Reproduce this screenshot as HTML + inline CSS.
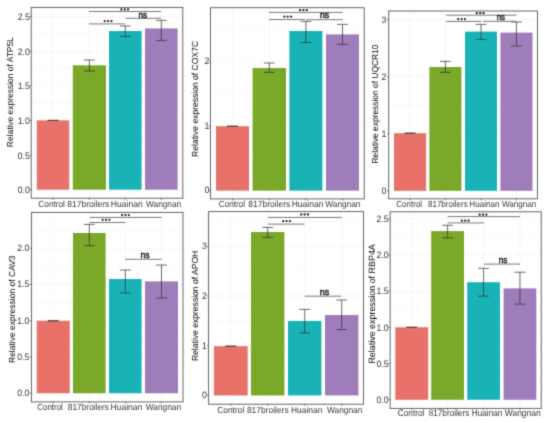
<!DOCTYPE html>
<html><head><meta charset="utf-8"><style>
html,body{margin:0;padding:0;background:#fff;}
svg{display:block;font-family:"Liberation Sans",sans-serif;text-rendering:geometricPrecision;}

</style></head><body><div id="wrap">
<svg width="550" height="423" viewBox="0 0 550 423">
<defs><filter id="blr" x="0" y="0" width="550" height="423" filterUnits="userSpaceOnUse" color-interpolation-filters="sRGB"><feConvolveMatrix order="3" kernelMatrix="0.0225 0.1050 0.0225 0.1050 0.4900 0.1050 0.0225 0.1050 0.0225" edgeMode="duplicate"/></filter></defs>
<g filter="url(#blr)">
<rect width="550" height="423" fill="#fff"/>
<clipPath id="c_ATP5L"><rect x="31.2" y="7.4" width="151.6" height="190.8"/></clipPath>
<g clip-path="url(#c_ATP5L)">
<line x1="31.2" x2="182.8" y1="207.01" y2="207.01" stroke="#EEEEEE" stroke-width="0.35"/>
<line x1="31.2" x2="182.8" y1="189.7" y2="189.7" stroke="#EEEEEE" stroke-width="0.55"/>
<line x1="31.2" x2="182.8" y1="172.39" y2="172.39" stroke="#EEEEEE" stroke-width="0.35"/>
<line x1="31.2" x2="182.8" y1="155.07" y2="155.07" stroke="#EEEEEE" stroke-width="0.55"/>
<line x1="31.2" x2="182.8" y1="137.76" y2="137.76" stroke="#EEEEEE" stroke-width="0.35"/>
<line x1="31.2" x2="182.8" y1="120.45" y2="120.45" stroke="#EEEEEE" stroke-width="0.55"/>
<line x1="31.2" x2="182.8" y1="103.14" y2="103.14" stroke="#EEEEEE" stroke-width="0.35"/>
<line x1="31.2" x2="182.8" y1="85.82" y2="85.82" stroke="#EEEEEE" stroke-width="0.55"/>
<line x1="31.2" x2="182.8" y1="68.51" y2="68.51" stroke="#EEEEEE" stroke-width="0.35"/>
<line x1="31.2" x2="182.8" y1="51.2" y2="51.2" stroke="#EEEEEE" stroke-width="0.55"/>
<line x1="31.2" x2="182.8" y1="33.89" y2="33.89" stroke="#EEEEEE" stroke-width="0.35"/>
<line x1="31.2" x2="182.8" y1="16.57" y2="16.57" stroke="#EEEEEE" stroke-width="0.55"/>
<line x1="53" x2="53" y1="7.4" y2="198.2" stroke="#EEEEEE" stroke-width="0.55"/>
<line x1="89.4" x2="89.4" y1="7.4" y2="198.2" stroke="#EEEEEE" stroke-width="0.55"/>
<line x1="125.3" x2="125.3" y1="7.4" y2="198.2" stroke="#EEEEEE" stroke-width="0.55"/>
<line x1="161.3" x2="161.3" y1="7.4" y2="198.2" stroke="#EEEEEE" stroke-width="0.55"/>
<rect x="36.8" y="120.4" width="32.4" height="69.3" fill="#E8726A"/>
<rect x="72.8" y="65.3" width="33.2" height="124.4" fill="#7AA829"/>
<rect x="109" y="31" width="32.6" height="158.7" fill="#19B3B7"/>
<rect x="145" y="28.4" width="32.6" height="161.3" fill="#9F7DBA"/>
<path d="M47.6 120.4H58.4M53 120.4V120.4M47.6 120.4H58.4" stroke="#2E2E2E" stroke-width="0.7" fill="none"/>
<path d="M84 60H94.8M89.4 60V71M84 71H94.8" stroke="#2E2E2E" stroke-width="0.7" fill="none"/>
<path d="M119.9 26H130.7M125.3 26V36.4M119.9 36.4H130.7" stroke="#2E2E2E" stroke-width="0.7" fill="none"/>
<path d="M155.9 20.4H166.7M161.3 20.4V40.6M155.9 40.6H166.7" stroke="#2E2E2E" stroke-width="0.7" fill="none"/>
<line x1="89" x2="161" y1="11.5" y2="11.5" stroke="#6A6A6A" stroke-width="0.9"/>
<circle cx="121.35" cy="9.45" r="1.15" fill="#222"/>
<circle cx="124.7" cy="9.45" r="1.15" fill="#222"/>
<circle cx="128.05" cy="9.45" r="1.15" fill="#222"/>
<line x1="89" x2="125" y1="23.9" y2="23.9" stroke="#6A6A6A" stroke-width="0.9"/>
<circle cx="104.75" cy="21.05" r="1.15" fill="#222"/>
<circle cx="108.1" cy="21.05" r="1.15" fill="#222"/>
<circle cx="111.45" cy="21.05" r="1.15" fill="#222"/>
<line x1="125.6" x2="161" y1="18.3" y2="18.3" stroke="#6A6A6A" stroke-width="0.9"/>
<text x="138.5" y="18" font-size="9.5" fill="#111" stroke="#111" stroke-width="0.4" textLength="8.6" lengthAdjust="spacingAndGlyphs">ns</text>
</g>
<rect x="31.2" y="7.4" width="151.6" height="190.8" fill="none" stroke="#555555" stroke-width="0.9"/>
<line x1="29.6" x2="31.2" y1="189.7" y2="189.7" stroke="#555555" stroke-width="0.8"/>
<text x="17.7" y="193" font-size="9.3" fill="#383838" textLength="12.1" lengthAdjust="spacingAndGlyphs">0.0</text>
<line x1="29.6" x2="31.2" y1="155.07" y2="155.07" stroke="#555555" stroke-width="0.8"/>
<text x="17.7" y="159" font-size="9.3" fill="#383838" textLength="12.1" lengthAdjust="spacingAndGlyphs">0.5</text>
<line x1="29.6" x2="31.2" y1="120.45" y2="120.45" stroke="#555555" stroke-width="0.8"/>
<text x="17.7" y="124" font-size="9.3" fill="#383838" textLength="12.1" lengthAdjust="spacingAndGlyphs">1.0</text>
<line x1="29.6" x2="31.2" y1="85.82" y2="85.82" stroke="#555555" stroke-width="0.8"/>
<text x="17.7" y="89" font-size="9.3" fill="#383838" textLength="12.1" lengthAdjust="spacingAndGlyphs">1.5</text>
<line x1="29.6" x2="31.2" y1="51.2" y2="51.2" stroke="#555555" stroke-width="0.8"/>
<text x="17.7" y="55" font-size="9.3" fill="#383838" textLength="12.1" lengthAdjust="spacingAndGlyphs">2.0</text>
<line x1="29.6" x2="31.2" y1="16.57" y2="16.57" stroke="#555555" stroke-width="0.8"/>
<text x="17.7" y="20" font-size="9.3" fill="#383838" textLength="12.1" lengthAdjust="spacingAndGlyphs">2.5</text>
<line x1="53" x2="53" y1="198.2" y2="199.8" stroke="#555555" stroke-width="0.8"/>
<line x1="89.4" x2="89.4" y1="198.2" y2="199.8" stroke="#555555" stroke-width="0.8"/>
<line x1="125.3" x2="125.3" y1="198.2" y2="199.8" stroke="#555555" stroke-width="0.8"/>
<line x1="161.3" x2="161.3" y1="198.2" y2="199.8" stroke="#555555" stroke-width="0.8"/>
<text x="38.35" y="206.8" font-size="8.9" fill="#383838" textLength="26.6" lengthAdjust="spacingAndGlyphs">Control</text>
<text x="67.35" y="206.8" font-size="8.9" fill="#383838" textLength="42" lengthAdjust="spacingAndGlyphs">817broilers</text>
<text x="110.75" y="206.8" font-size="8.9" fill="#383838" textLength="32" lengthAdjust="spacingAndGlyphs">Huainan</text>
<text x="146.05" y="206.8" font-size="8.9" fill="#383838" textLength="35.1" lengthAdjust="spacingAndGlyphs">Wangnan</text>
<text transform="translate(12.8,147.2) rotate(-90)" x="0" y="0" font-size="8.68" fill="#000" textLength="110" lengthAdjust="spacingAndGlyphs">Relative expression of ATP5L</text>
<clipPath id="c_COX7C"><rect x="210.4" y="7.7" width="153.8" height="191.2"/></clipPath>
<g clip-path="url(#c_COX7C)">
<line x1="210.4" x2="364.2" y1="222.8" y2="222.8" stroke="#EEEEEE" stroke-width="0.35"/>
<line x1="210.4" x2="364.2" y1="190.6" y2="190.6" stroke="#EEEEEE" stroke-width="0.55"/>
<line x1="210.4" x2="364.2" y1="158.4" y2="158.4" stroke="#EEEEEE" stroke-width="0.35"/>
<line x1="210.4" x2="364.2" y1="126.2" y2="126.2" stroke="#EEEEEE" stroke-width="0.55"/>
<line x1="210.4" x2="364.2" y1="94" y2="94" stroke="#EEEEEE" stroke-width="0.35"/>
<line x1="210.4" x2="364.2" y1="61.8" y2="61.8" stroke="#EEEEEE" stroke-width="0.55"/>
<line x1="210.4" x2="364.2" y1="29.6" y2="29.6" stroke="#EEEEEE" stroke-width="0.35"/>
<line x1="232.5" x2="232.5" y1="7.7" y2="198.9" stroke="#EEEEEE" stroke-width="0.55"/>
<line x1="269.3" x2="269.3" y1="7.7" y2="198.9" stroke="#EEEEEE" stroke-width="0.55"/>
<line x1="305.9" x2="305.9" y1="7.7" y2="198.9" stroke="#EEEEEE" stroke-width="0.55"/>
<line x1="342.5" x2="342.5" y1="7.7" y2="198.9" stroke="#EEEEEE" stroke-width="0.55"/>
<rect x="216" y="126.2" width="33" height="64.4" fill="#E8726A"/>
<rect x="252.6" y="68" width="33.4" height="122.6" fill="#7AA829"/>
<rect x="289.4" y="31" width="33" height="159.6" fill="#19B3B7"/>
<rect x="326" y="34.4" width="33" height="156.2" fill="#9F7DBA"/>
<path d="M227.1 126.2H237.9M232.5 126.2V126.2M227.1 126.2H237.9" stroke="#2E2E2E" stroke-width="0.7" fill="none"/>
<path d="M263.9 63H274.7M269.3 63V72.4M263.9 72.4H274.7" stroke="#2E2E2E" stroke-width="0.7" fill="none"/>
<path d="M300.5 21.4H311.3M305.9 21.4V42.6M300.5 42.6H311.3" stroke="#2E2E2E" stroke-width="0.7" fill="none"/>
<path d="M337.1 24.4H347.9M342.5 24.4V44.4M337.1 44.4H347.9" stroke="#2E2E2E" stroke-width="0.7" fill="none"/>
<line x1="269" x2="342.6" y1="12.4" y2="12.4" stroke="#6A6A6A" stroke-width="0.9"/>
<circle cx="300.05" cy="10.2" r="1.15" fill="#222"/>
<circle cx="303.4" cy="10.2" r="1.15" fill="#222"/>
<circle cx="306.75" cy="10.2" r="1.15" fill="#222"/>
<line x1="269" x2="305" y1="19.5" y2="19.5" stroke="#6A6A6A" stroke-width="0.9"/>
<circle cx="284.35" cy="16.7" r="1.15" fill="#222"/>
<circle cx="287.7" cy="16.7" r="1.15" fill="#222"/>
<circle cx="291.05" cy="16.7" r="1.15" fill="#222"/>
<line x1="306" x2="342.6" y1="19.7" y2="19.7" stroke="#6A6A6A" stroke-width="0.9"/>
<text x="319.9" y="17.8" font-size="9.5" fill="#111" stroke="#111" stroke-width="0.4" textLength="9.3" lengthAdjust="spacingAndGlyphs">ns</text>
</g>
<rect x="210.4" y="7.7" width="153.8" height="191.2" fill="none" stroke="#555555" stroke-width="0.9"/>
<line x1="208.8" x2="210.4" y1="190.6" y2="190.6" stroke="#555555" stroke-width="0.8"/>
<text x="204.5" y="193" font-size="9.3" fill="#383838" textLength="4.9" lengthAdjust="spacingAndGlyphs">0</text>
<line x1="208.8" x2="210.4" y1="126.2" y2="126.2" stroke="#555555" stroke-width="0.8"/>
<text x="204.5" y="129" font-size="9.3" fill="#383838" textLength="4.9" lengthAdjust="spacingAndGlyphs">1</text>
<line x1="208.8" x2="210.4" y1="61.8" y2="61.8" stroke="#555555" stroke-width="0.8"/>
<text x="204.5" y="64" font-size="9.3" fill="#383838" textLength="4.9" lengthAdjust="spacingAndGlyphs">2</text>
<line x1="232.5" x2="232.5" y1="198.9" y2="200.5" stroke="#555555" stroke-width="0.8"/>
<line x1="269.3" x2="269.3" y1="198.9" y2="200.5" stroke="#555555" stroke-width="0.8"/>
<line x1="305.9" x2="305.9" y1="198.9" y2="200.5" stroke="#555555" stroke-width="0.8"/>
<line x1="342.5" x2="342.5" y1="198.9" y2="200.5" stroke="#555555" stroke-width="0.8"/>
<text x="218.85" y="207" font-size="8.9" fill="#383838" textLength="26.2" lengthAdjust="spacingAndGlyphs">Control</text>
<text x="248.35" y="207" font-size="8.9" fill="#383838" textLength="41.9" lengthAdjust="spacingAndGlyphs">817broilers</text>
<text x="291.65" y="207" font-size="8.9" fill="#383838" textLength="31.9" lengthAdjust="spacingAndGlyphs">Huainan</text>
<text x="325.35" y="207" font-size="8.9" fill="#383838" textLength="35" lengthAdjust="spacingAndGlyphs">Wangnan</text>
<text transform="translate(198.3,156.9) rotate(-90)" x="0" y="0" font-size="8.8" fill="#000" textLength="116" lengthAdjust="spacingAndGlyphs">Relative expression of COX7C</text>
<clipPath id="c_UQCR10"><rect x="388.7" y="11" width="148.7" height="187.8"/></clipPath>
<g clip-path="url(#c_UQCR10)">
<line x1="388.7" x2="537.4" y1="219.35" y2="219.35" stroke="#EEEEEE" stroke-width="0.35"/>
<line x1="388.7" x2="537.4" y1="190.8" y2="190.8" stroke="#EEEEEE" stroke-width="0.55"/>
<line x1="388.7" x2="537.4" y1="162.25" y2="162.25" stroke="#EEEEEE" stroke-width="0.35"/>
<line x1="388.7" x2="537.4" y1="133.7" y2="133.7" stroke="#EEEEEE" stroke-width="0.55"/>
<line x1="388.7" x2="537.4" y1="105.15" y2="105.15" stroke="#EEEEEE" stroke-width="0.35"/>
<line x1="388.7" x2="537.4" y1="76.6" y2="76.6" stroke="#EEEEEE" stroke-width="0.55"/>
<line x1="388.7" x2="537.4" y1="48.05" y2="48.05" stroke="#EEEEEE" stroke-width="0.35"/>
<line x1="388.7" x2="537.4" y1="19.5" y2="19.5" stroke="#EEEEEE" stroke-width="0.55"/>
<line x1="410.05" x2="410.05" y1="11" y2="198.8" stroke="#EEEEEE" stroke-width="0.55"/>
<line x1="445.4" x2="445.4" y1="11" y2="198.8" stroke="#EEEEEE" stroke-width="0.55"/>
<line x1="481" x2="481" y1="11" y2="198.8" stroke="#EEEEEE" stroke-width="0.55"/>
<line x1="516.45" x2="516.45" y1="11" y2="198.8" stroke="#EEEEEE" stroke-width="0.55"/>
<rect x="394" y="133.2" width="32.1" height="57.6" fill="#E8726A"/>
<rect x="429.4" y="67" width="32" height="123.8" fill="#7AA829"/>
<rect x="465" y="31.6" width="32" height="159.2" fill="#19B3B7"/>
<rect x="500.4" y="32.6" width="32.1" height="158.2" fill="#9F7DBA"/>
<path d="M404.65 133.2H415.45M410.05 133.2V133.2M404.65 133.2H415.45" stroke="#2E2E2E" stroke-width="0.7" fill="none"/>
<path d="M440 61.4H450.8M445.4 61.4V72.4M440 72.4H450.8" stroke="#2E2E2E" stroke-width="0.7" fill="none"/>
<path d="M475.6 24.4H486.4M481 24.4V39.4M475.6 39.4H486.4" stroke="#2E2E2E" stroke-width="0.7" fill="none"/>
<path d="M511.05 22H521.85M516.45 22V46M511.05 46H521.85" stroke="#2E2E2E" stroke-width="0.7" fill="none"/>
<line x1="446" x2="516.4" y1="15.2" y2="15.2" stroke="#6A6A6A" stroke-width="0.9"/>
<circle cx="476.85" cy="13.2" r="1.15" fill="#222"/>
<circle cx="480.2" cy="13.2" r="1.15" fill="#222"/>
<circle cx="483.55" cy="13.2" r="1.15" fill="#222"/>
<line x1="446" x2="481" y1="21.45" y2="21.45" stroke="#6A6A6A" stroke-width="0.9"/>
<circle cx="458.25" cy="19.05" r="1.15" fill="#222"/>
<circle cx="461.6" cy="19.05" r="1.15" fill="#222"/>
<circle cx="464.95" cy="19.05" r="1.15" fill="#222"/>
<line x1="483" x2="516.4" y1="21.35" y2="21.35" stroke="#6A6A6A" stroke-width="0.9"/>
<text x="496.8" y="20.3" font-size="9.5" fill="#111" stroke="#111" stroke-width="0.4" textLength="8.2" lengthAdjust="spacingAndGlyphs">ns</text>
</g>
<rect x="388.7" y="11" width="148.7" height="187.8" fill="none" stroke="#555555" stroke-width="0.9"/>
<line x1="387.1" x2="388.7" y1="190.8" y2="190.8" stroke="#555555" stroke-width="0.8"/>
<text x="381.5" y="194" font-size="9.3" fill="#383838" textLength="4.9" lengthAdjust="spacingAndGlyphs">0</text>
<line x1="387.1" x2="388.7" y1="133.7" y2="133.7" stroke="#555555" stroke-width="0.8"/>
<text x="381.5" y="137" font-size="9.3" fill="#383838" textLength="4.9" lengthAdjust="spacingAndGlyphs">1</text>
<line x1="387.1" x2="388.7" y1="76.6" y2="76.6" stroke="#555555" stroke-width="0.8"/>
<text x="381.5" y="80" font-size="9.3" fill="#383838" textLength="4.9" lengthAdjust="spacingAndGlyphs">2</text>
<line x1="387.1" x2="388.7" y1="19.5" y2="19.5" stroke="#555555" stroke-width="0.8"/>
<text x="381.5" y="23" font-size="9.3" fill="#383838" textLength="4.9" lengthAdjust="spacingAndGlyphs">3</text>
<line x1="410.05" x2="410.05" y1="198.8" y2="200.4" stroke="#555555" stroke-width="0.8"/>
<line x1="445.4" x2="445.4" y1="198.8" y2="200.4" stroke="#555555" stroke-width="0.8"/>
<line x1="481" x2="481" y1="198.8" y2="200.4" stroke="#555555" stroke-width="0.8"/>
<line x1="516.45" x2="516.45" y1="198.8" y2="200.4" stroke="#555555" stroke-width="0.8"/>
<text x="396.35" y="206.6" font-size="8.9" fill="#383838" textLength="25.8" lengthAdjust="spacingAndGlyphs">Control</text>
<text x="427.95" y="206.6" font-size="8.9" fill="#383838" textLength="39.8" lengthAdjust="spacingAndGlyphs">817broilers</text>
<text x="469.35" y="206.6" font-size="8.9" fill="#383838" textLength="30.1" lengthAdjust="spacingAndGlyphs">Huainan</text>
<text x="502.05" y="206.6" font-size="8.9" fill="#383838" textLength="34.2" lengthAdjust="spacingAndGlyphs">Wangnan</text>
<text transform="translate(377.9,163.6) rotate(-90)" x="0" y="0" font-size="8.65" fill="#000" textLength="119" lengthAdjust="spacingAndGlyphs">Relative expression of UQCR10</text>
<clipPath id="c_CAV3"><rect x="31.4" y="212.4" width="151.6" height="189.5"/></clipPath>
<g clip-path="url(#c_CAV3)">
<line x1="31.4" x2="183" y1="411.31" y2="411.31" stroke="#EEEEEE" stroke-width="0.35"/>
<line x1="31.4" x2="183" y1="393.2" y2="393.2" stroke="#EEEEEE" stroke-width="0.55"/>
<line x1="31.4" x2="183" y1="375.09" y2="375.09" stroke="#EEEEEE" stroke-width="0.35"/>
<line x1="31.4" x2="183" y1="356.97" y2="356.97" stroke="#EEEEEE" stroke-width="0.55"/>
<line x1="31.4" x2="183" y1="338.86" y2="338.86" stroke="#EEEEEE" stroke-width="0.35"/>
<line x1="31.4" x2="183" y1="320.75" y2="320.75" stroke="#EEEEEE" stroke-width="0.55"/>
<line x1="31.4" x2="183" y1="302.64" y2="302.64" stroke="#EEEEEE" stroke-width="0.35"/>
<line x1="31.4" x2="183" y1="284.52" y2="284.52" stroke="#EEEEEE" stroke-width="0.55"/>
<line x1="31.4" x2="183" y1="266.41" y2="266.41" stroke="#EEEEEE" stroke-width="0.35"/>
<line x1="31.4" x2="183" y1="248.3" y2="248.3" stroke="#EEEEEE" stroke-width="0.55"/>
<line x1="31.4" x2="183" y1="230.19" y2="230.19" stroke="#EEEEEE" stroke-width="0.35"/>
<line x1="53.25" x2="53.25" y1="212.4" y2="401.9" stroke="#EEEEEE" stroke-width="0.55"/>
<line x1="89.3" x2="89.3" y1="212.4" y2="401.9" stroke="#EEEEEE" stroke-width="0.55"/>
<line x1="125.3" x2="125.3" y1="212.4" y2="401.9" stroke="#EEEEEE" stroke-width="0.55"/>
<line x1="161.5" x2="161.5" y1="212.4" y2="401.9" stroke="#EEEEEE" stroke-width="0.55"/>
<rect x="36.7" y="320.8" width="33.1" height="72.4" fill="#E8726A"/>
<rect x="73" y="233" width="32.6" height="160.2" fill="#7AA829"/>
<rect x="109" y="279" width="32.6" height="114.2" fill="#19B3B7"/>
<rect x="145" y="281.4" width="33" height="111.8" fill="#9F7DBA"/>
<path d="M47.85 320.8H58.65M53.25 320.8V320.8M47.85 320.8H58.65" stroke="#2E2E2E" stroke-width="0.7" fill="none"/>
<path d="M83.9 224.4H94.7M89.3 224.4V245.6M83.9 245.6H94.7" stroke="#2E2E2E" stroke-width="0.7" fill="none"/>
<path d="M119.9 270H130.7M125.3 270V293M119.9 293H130.7" stroke="#2E2E2E" stroke-width="0.7" fill="none"/>
<path d="M156.1 265H166.9M161.5 265V298M156.1 298H166.9" stroke="#2E2E2E" stroke-width="0.7" fill="none"/>
<line x1="89.6" x2="161.6" y1="217.45" y2="217.45" stroke="#6A6A6A" stroke-width="0.9"/>
<circle cx="122.15" cy="215.05" r="1.15" fill="#222"/>
<circle cx="125.5" cy="215.05" r="1.15" fill="#222"/>
<circle cx="128.85" cy="215.05" r="1.15" fill="#222"/>
<line x1="89.6" x2="125.4" y1="222.5" y2="222.5" stroke="#6A6A6A" stroke-width="0.9"/>
<circle cx="102.65" cy="219.8" r="1.15" fill="#222"/>
<circle cx="106" cy="219.8" r="1.15" fill="#222"/>
<circle cx="109.35" cy="219.8" r="1.15" fill="#222"/>
<line x1="125" x2="161.6" y1="259.3" y2="259.3" stroke="#6A6A6A" stroke-width="0.9"/>
<text x="140.4" y="257.8" font-size="9.5" fill="#111" stroke="#111" stroke-width="0.4" textLength="9.1" lengthAdjust="spacingAndGlyphs">ns</text>
</g>
<rect x="31.4" y="212.4" width="151.6" height="189.5" fill="none" stroke="#555555" stroke-width="0.9"/>
<line x1="29.8" x2="31.4" y1="393.2" y2="393.2" stroke="#555555" stroke-width="0.8"/>
<text x="17.2" y="396" font-size="9.3" fill="#383838" textLength="12.1" lengthAdjust="spacingAndGlyphs">0.0</text>
<line x1="29.8" x2="31.4" y1="356.97" y2="356.97" stroke="#555555" stroke-width="0.8"/>
<text x="17.2" y="360" font-size="9.3" fill="#383838" textLength="12.1" lengthAdjust="spacingAndGlyphs">0.5</text>
<line x1="29.8" x2="31.4" y1="320.75" y2="320.75" stroke="#555555" stroke-width="0.8"/>
<text x="17.2" y="324" font-size="9.3" fill="#383838" textLength="12.1" lengthAdjust="spacingAndGlyphs">1.0</text>
<line x1="29.8" x2="31.4" y1="284.52" y2="284.52" stroke="#555555" stroke-width="0.8"/>
<text x="17.2" y="287" font-size="9.3" fill="#383838" textLength="12.1" lengthAdjust="spacingAndGlyphs">1.5</text>
<line x1="29.8" x2="31.4" y1="248.3" y2="248.3" stroke="#555555" stroke-width="0.8"/>
<text x="17.2" y="251" font-size="9.3" fill="#383838" textLength="12.1" lengthAdjust="spacingAndGlyphs">2.0</text>
<line x1="53.25" x2="53.25" y1="401.9" y2="403.5" stroke="#555555" stroke-width="0.8"/>
<line x1="89.3" x2="89.3" y1="401.9" y2="403.5" stroke="#555555" stroke-width="0.8"/>
<line x1="125.3" x2="125.3" y1="401.9" y2="403.5" stroke="#555555" stroke-width="0.8"/>
<line x1="161.5" x2="161.5" y1="401.9" y2="403.5" stroke="#555555" stroke-width="0.8"/>
<text x="37.25" y="409.8" font-size="8.9" fill="#383838" textLength="25.6" lengthAdjust="spacingAndGlyphs">Control</text>
<text x="67.85" y="409.8" font-size="8.9" fill="#383838" textLength="41.2" lengthAdjust="spacingAndGlyphs">817broilers</text>
<text x="110.45" y="409.8" font-size="8.9" fill="#383838" textLength="31.9" lengthAdjust="spacingAndGlyphs">Huainan</text>
<text x="145.65" y="409.8" font-size="8.9" fill="#383838" textLength="35.5" lengthAdjust="spacingAndGlyphs">Wangnan</text>
<text transform="translate(14.8,363) rotate(-90)" x="0" y="0" font-size="8.75" fill="#000" textLength="107.6" lengthAdjust="spacingAndGlyphs">Relative expression of CAV3</text>
<clipPath id="c_APOH"><rect x="208.6" y="211.6" width="154.8" height="192.6"/></clipPath>
<g clip-path="url(#c_APOH)">
<line x1="208.6" x2="363.4" y1="420.23" y2="420.23" stroke="#EEEEEE" stroke-width="0.35"/>
<line x1="208.6" x2="363.4" y1="395.4" y2="395.4" stroke="#EEEEEE" stroke-width="0.55"/>
<line x1="208.6" x2="363.4" y1="370.56" y2="370.56" stroke="#EEEEEE" stroke-width="0.35"/>
<line x1="208.6" x2="363.4" y1="345.73" y2="345.73" stroke="#EEEEEE" stroke-width="0.55"/>
<line x1="208.6" x2="363.4" y1="320.89" y2="320.89" stroke="#EEEEEE" stroke-width="0.35"/>
<line x1="208.6" x2="363.4" y1="296.06" y2="296.06" stroke="#EEEEEE" stroke-width="0.55"/>
<line x1="208.6" x2="363.4" y1="271.22" y2="271.22" stroke="#EEEEEE" stroke-width="0.35"/>
<line x1="208.6" x2="363.4" y1="246.39" y2="246.39" stroke="#EEEEEE" stroke-width="0.55"/>
<line x1="208.6" x2="363.4" y1="221.55" y2="221.55" stroke="#EEEEEE" stroke-width="0.35"/>
<line x1="230.8" x2="230.8" y1="211.6" y2="404.2" stroke="#EEEEEE" stroke-width="0.55"/>
<line x1="267.7" x2="267.7" y1="211.6" y2="404.2" stroke="#EEEEEE" stroke-width="0.55"/>
<line x1="304.7" x2="304.7" y1="211.6" y2="404.2" stroke="#EEEEEE" stroke-width="0.55"/>
<line x1="341.7" x2="341.7" y1="211.6" y2="404.2" stroke="#EEEEEE" stroke-width="0.55"/>
<rect x="213.9" y="346.2" width="33.8" height="49.2" fill="#E8726A"/>
<rect x="251" y="232" width="33.4" height="163.4" fill="#7AA829"/>
<rect x="288" y="321" width="33.4" height="74.4" fill="#19B3B7"/>
<rect x="325" y="315" width="33.4" height="80.4" fill="#9F7DBA"/>
<path d="M225.4 346.2H236.2M230.8 346.2V346.2M225.4 346.2H236.2" stroke="#2E2E2E" stroke-width="0.7" fill="none"/>
<path d="M262.3 227.4H273.1M267.7 227.4V237.4M262.3 237.4H273.1" stroke="#2E2E2E" stroke-width="0.7" fill="none"/>
<path d="M299.3 309.4H310.1M304.7 309.4V333M299.3 333H310.1" stroke="#2E2E2E" stroke-width="0.7" fill="none"/>
<path d="M336.3 300H347.1M341.7 300V329.6M336.3 329.6H347.1" stroke="#2E2E2E" stroke-width="0.7" fill="none"/>
<line x1="268" x2="341.6" y1="217.45" y2="217.45" stroke="#6A6A6A" stroke-width="0.9"/>
<circle cx="301.35" cy="214.5" r="1.15" fill="#222"/>
<circle cx="304.7" cy="214.5" r="1.15" fill="#222"/>
<circle cx="308.05" cy="214.5" r="1.15" fill="#222"/>
<line x1="268" x2="304.4" y1="224.1" y2="224.1" stroke="#6A6A6A" stroke-width="0.9"/>
<circle cx="283.25" cy="221.1" r="1.15" fill="#222"/>
<circle cx="286.6" cy="221.1" r="1.15" fill="#222"/>
<circle cx="289.95" cy="221.1" r="1.15" fill="#222"/>
<line x1="305" x2="341" y1="296.2" y2="296.2" stroke="#6A6A6A" stroke-width="0.9"/>
<text x="319.7" y="294.8" font-size="9.5" fill="#111" stroke="#111" stroke-width="0.4" textLength="9.5" lengthAdjust="spacingAndGlyphs">ns</text>
</g>
<rect x="208.6" y="211.6" width="154.8" height="192.6" fill="none" stroke="#555555" stroke-width="0.9"/>
<line x1="207" x2="208.6" y1="395.4" y2="395.4" stroke="#555555" stroke-width="0.8"/>
<text x="201.9" y="398" font-size="9.3" fill="#383838" textLength="4.9" lengthAdjust="spacingAndGlyphs">0</text>
<line x1="207" x2="208.6" y1="345.73" y2="345.73" stroke="#555555" stroke-width="0.8"/>
<text x="201.9" y="349" font-size="9.3" fill="#383838" textLength="4.9" lengthAdjust="spacingAndGlyphs">1</text>
<line x1="207" x2="208.6" y1="296.06" y2="296.06" stroke="#555555" stroke-width="0.8"/>
<text x="201.9" y="299" font-size="9.3" fill="#383838" textLength="4.9" lengthAdjust="spacingAndGlyphs">2</text>
<line x1="207" x2="208.6" y1="246.39" y2="246.39" stroke="#555555" stroke-width="0.8"/>
<text x="201.9" y="249" font-size="9.3" fill="#383838" textLength="4.9" lengthAdjust="spacingAndGlyphs">3</text>
<line x1="230.8" x2="230.8" y1="404.2" y2="405.8" stroke="#555555" stroke-width="0.8"/>
<line x1="267.7" x2="267.7" y1="404.2" y2="405.8" stroke="#555555" stroke-width="0.8"/>
<line x1="304.7" x2="304.7" y1="404.2" y2="405.8" stroke="#555555" stroke-width="0.8"/>
<line x1="341.7" x2="341.7" y1="404.2" y2="405.8" stroke="#555555" stroke-width="0.8"/>
<text x="217.15" y="413.2" font-size="8.9" fill="#383838" textLength="27.2" lengthAdjust="spacingAndGlyphs">Control</text>
<text x="246.95" y="413.2" font-size="8.9" fill="#383838" textLength="41.7" lengthAdjust="spacingAndGlyphs">817broilers</text>
<text x="290.95" y="413.2" font-size="8.9" fill="#383838" textLength="31.4" lengthAdjust="spacingAndGlyphs">Huainan</text>
<text x="326.95" y="413.2" font-size="8.9" fill="#383838" textLength="35.4" lengthAdjust="spacingAndGlyphs">Wangnan</text>
<text transform="translate(198.3,361.1) rotate(-90)" x="0" y="0" font-size="8.81" fill="#000" textLength="110.4" lengthAdjust="spacingAndGlyphs">Relative expression of APOH</text>
<clipPath id="c_RBP4A"><rect x="390.1" y="211.8" width="151.1" height="196.6"/></clipPath>
<g clip-path="url(#c_RBP4A)">
<line x1="390.1" x2="541.2" y1="417.9" y2="417.9" stroke="#EEEEEE" stroke-width="0.35"/>
<line x1="390.1" x2="541.2" y1="399.8" y2="399.8" stroke="#EEEEEE" stroke-width="0.55"/>
<line x1="390.1" x2="541.2" y1="381.7" y2="381.7" stroke="#EEEEEE" stroke-width="0.35"/>
<line x1="390.1" x2="541.2" y1="363.6" y2="363.6" stroke="#EEEEEE" stroke-width="0.55"/>
<line x1="390.1" x2="541.2" y1="345.5" y2="345.5" stroke="#EEEEEE" stroke-width="0.35"/>
<line x1="390.1" x2="541.2" y1="327.4" y2="327.4" stroke="#EEEEEE" stroke-width="0.55"/>
<line x1="390.1" x2="541.2" y1="309.3" y2="309.3" stroke="#EEEEEE" stroke-width="0.35"/>
<line x1="390.1" x2="541.2" y1="291.2" y2="291.2" stroke="#EEEEEE" stroke-width="0.55"/>
<line x1="390.1" x2="541.2" y1="273.1" y2="273.1" stroke="#EEEEEE" stroke-width="0.35"/>
<line x1="390.1" x2="541.2" y1="255" y2="255" stroke="#EEEEEE" stroke-width="0.55"/>
<line x1="390.1" x2="541.2" y1="236.9" y2="236.9" stroke="#EEEEEE" stroke-width="0.35"/>
<line x1="390.1" x2="541.2" y1="218.8" y2="218.8" stroke="#EEEEEE" stroke-width="0.55"/>
<line x1="411.75" x2="411.75" y1="211.8" y2="408.4" stroke="#EEEEEE" stroke-width="0.55"/>
<line x1="447.6" x2="447.6" y1="211.8" y2="408.4" stroke="#EEEEEE" stroke-width="0.55"/>
<line x1="483.6" x2="483.6" y1="211.8" y2="408.4" stroke="#EEEEEE" stroke-width="0.55"/>
<line x1="519.95" x2="519.95" y1="211.8" y2="408.4" stroke="#EEEEEE" stroke-width="0.55"/>
<rect x="395.3" y="327.3" width="32.9" height="72.5" fill="#E8726A"/>
<rect x="431.2" y="231.1" width="32.8" height="168.7" fill="#7AA829"/>
<rect x="467.2" y="282.2" width="32.8" height="117.6" fill="#19B3B7"/>
<rect x="503.6" y="288.4" width="32.7" height="111.4" fill="#9F7DBA"/>
<path d="M406.35 327.3H417.15M411.75 327.3V327.3M406.35 327.3H417.15" stroke="#2E2E2E" stroke-width="0.7" fill="none"/>
<path d="M442.2 225.3H453M447.6 225.3V237.8M442.2 237.8H453" stroke="#2E2E2E" stroke-width="0.7" fill="none"/>
<path d="M478.2 268.3H489M483.6 268.3V296.1M478.2 296.1H489" stroke="#2E2E2E" stroke-width="0.7" fill="none"/>
<path d="M514.55 272.2H525.35M519.95 272.2V304.1M514.55 304.1H525.35" stroke="#2E2E2E" stroke-width="0.7" fill="none"/>
<line x1="447.8" x2="519.9" y1="216.6" y2="216.6" stroke="#6A6A6A" stroke-width="0.9"/>
<circle cx="479.65" cy="214.7" r="1.15" fill="#222"/>
<circle cx="483" cy="214.7" r="1.15" fill="#222"/>
<circle cx="486.35" cy="214.7" r="1.15" fill="#222"/>
<line x1="447.8" x2="484" y1="222.9" y2="222.9" stroke="#6A6A6A" stroke-width="0.9"/>
<circle cx="461.85" cy="220.7" r="1.15" fill="#222"/>
<circle cx="465.2" cy="220.7" r="1.15" fill="#222"/>
<circle cx="468.55" cy="220.7" r="1.15" fill="#222"/>
<line x1="484" x2="520" y1="264.1" y2="264.1" stroke="#6A6A6A" stroke-width="0.9"/>
<text x="498.8" y="263.4" font-size="9.5" fill="#111" stroke="#111" stroke-width="0.4" textLength="8.5" lengthAdjust="spacingAndGlyphs">ns</text>
</g>
<rect x="390.1" y="211.8" width="151.1" height="196.6" fill="none" stroke="#555555" stroke-width="0.9"/>
<line x1="388.5" x2="390.1" y1="399.8" y2="399.8" stroke="#555555" stroke-width="0.8"/>
<text x="376.6" y="403" font-size="9.3" fill="#383838" textLength="12.1" lengthAdjust="spacingAndGlyphs">0.0</text>
<line x1="388.5" x2="390.1" y1="363.6" y2="363.6" stroke="#555555" stroke-width="0.8"/>
<text x="376.6" y="367" font-size="9.3" fill="#383838" textLength="12.1" lengthAdjust="spacingAndGlyphs">0.5</text>
<line x1="388.5" x2="390.1" y1="327.4" y2="327.4" stroke="#555555" stroke-width="0.8"/>
<text x="376.6" y="331" font-size="9.3" fill="#383838" textLength="12.1" lengthAdjust="spacingAndGlyphs">1.0</text>
<line x1="388.5" x2="390.1" y1="291.2" y2="291.2" stroke="#555555" stroke-width="0.8"/>
<text x="376.6" y="294" font-size="9.3" fill="#383838" textLength="12.1" lengthAdjust="spacingAndGlyphs">1.5</text>
<line x1="388.5" x2="390.1" y1="255" y2="255" stroke="#555555" stroke-width="0.8"/>
<text x="376.6" y="258" font-size="9.3" fill="#383838" textLength="12.1" lengthAdjust="spacingAndGlyphs">2.0</text>
<line x1="388.5" x2="390.1" y1="218.8" y2="218.8" stroke="#555555" stroke-width="0.8"/>
<text x="376.6" y="222" font-size="9.3" fill="#383838" textLength="12.1" lengthAdjust="spacingAndGlyphs">2.5</text>
<line x1="411.75" x2="411.75" y1="408.4" y2="410" stroke="#555555" stroke-width="0.8"/>
<line x1="447.6" x2="447.6" y1="408.4" y2="410" stroke="#555555" stroke-width="0.8"/>
<line x1="483.6" x2="483.6" y1="408.4" y2="410" stroke="#555555" stroke-width="0.8"/>
<line x1="519.95" x2="519.95" y1="408.4" y2="410" stroke="#555555" stroke-width="0.8"/>
<text x="397.85" y="415.7" font-size="9.4" fill="#383838" textLength="26.5" lengthAdjust="spacingAndGlyphs">Control</text>
<text x="428.65" y="415.7" font-size="9.4" fill="#383838" textLength="40.6" lengthAdjust="spacingAndGlyphs">817broilers</text>
<text x="471.85" y="415.7" font-size="9.4" fill="#383838" textLength="30.5" lengthAdjust="spacingAndGlyphs">Huainan</text>
<text x="504.75" y="415.7" font-size="9.4" fill="#383838" textLength="36" lengthAdjust="spacingAndGlyphs">Wangnan</text>
<text transform="translate(375,363.6) rotate(-90)" x="0" y="0" font-size="9.16" fill="#000" textLength="119.4" lengthAdjust="spacingAndGlyphs">Relative expression of RBP4A</text>
</g>
</svg></div></body></html>
